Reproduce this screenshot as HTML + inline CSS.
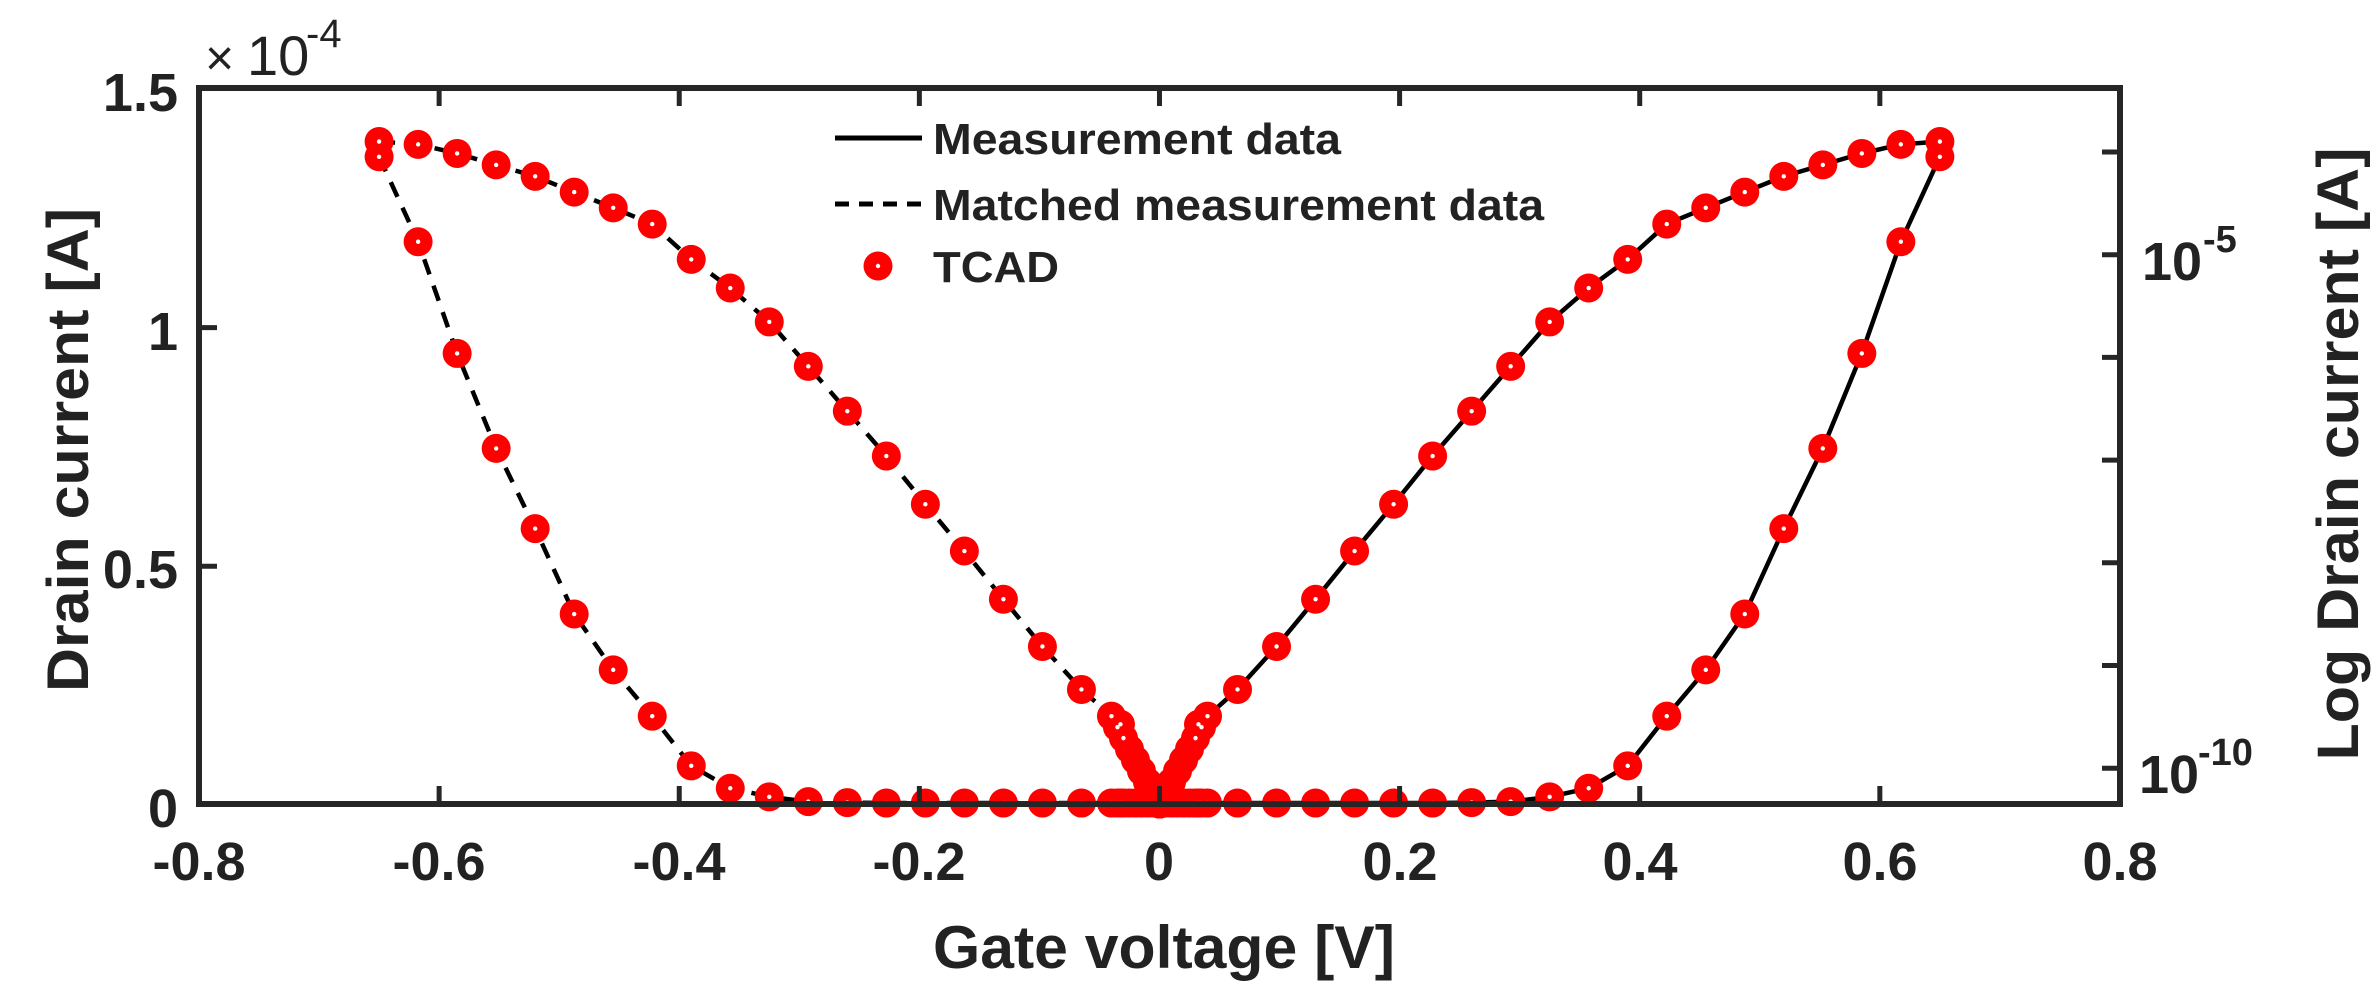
<!DOCTYPE html>
<html><head><meta charset="utf-8"><style>
html,body{margin:0;padding:0;background:#fff;}
svg{display:block;}
text{font-family:"Liberation Sans",Arial,sans-serif;fill:#222;}
</style></head><body>
<svg id="s" width="2378" height="999" viewBox="0 0 2378 999" xmlns="http://www.w3.org/2000/svg">
<g id="lines"></g>
<g id="marks"></g>
<g id="axes" stroke="#262626" stroke-width="6" fill="none">
<rect x="199" y="88" width="1921" height="716"/>
</g>
<g id="ticks" stroke="#262626" stroke-width="5"></g>
<g font-weight="bold" font-size="54" text-anchor="middle">
<text x="199" y="880">-0.8</text><text x="439" y="880">-0.6</text><text x="679" y="880">-0.4</text><text x="919" y="880">-0.2</text>
<text x="1159" y="880">0</text><text x="1400" y="880">0.2</text><text x="1640" y="880">0.4</text><text x="1880" y="880">0.6</text><text x="2120" y="880">0.8</text>
</g>
<g font-weight="bold" font-size="54" text-anchor="end">
<text x="178" y="827">0</text><text x="178" y="588">0.5</text><text x="178" y="350">1</text><text x="178" y="111">1.5</text>
</g>
<text x="205" y="75" font-size="50">×</text><text x="247" y="75" font-size="56">10</text><text x="306" y="47" font-size="40">-4</text>
<g font-weight="bold">
<text x="2142" y="280" font-size="54">10</text><text x="2203" y="252" font-size="38">-5</text>
<text x="2139" y="793" font-size="54">10</text><text x="2198" y="765" font-size="38">-10</text>
</g>
<text x="1164" y="968" font-size="60" font-weight="bold" text-anchor="middle" textLength="462" lengthAdjust="spacingAndGlyphs">Gate voltage [V]</text>
<text transform="translate(88,450) rotate(-90)" font-size="58" font-weight="bold" text-anchor="middle" textLength="484" lengthAdjust="spacingAndGlyphs">Drain current [A]</text>
<text transform="translate(2358,454) rotate(-90)" font-size="58" font-weight="bold" text-anchor="middle" textLength="613" lengthAdjust="spacingAndGlyphs">Log Drain current [A]</text>
<g font-weight="bold" font-size="44">
<line x1="835" y1="138" x2="922" y2="138" stroke="#000" stroke-width="5"/>
<text x="933" y="154" textLength="408" lengthAdjust="spacingAndGlyphs">Measurement data</text>
<line x1="835" y1="204" x2="922" y2="204" stroke="#000" stroke-width="5" stroke-dasharray="14,10"/>
<text x="933" y="220" textLength="611" lengthAdjust="spacingAndGlyphs">Matched measurement data</text>
<circle cx="878" cy="266" r="14.5" fill="#f00"/><circle cx="878" cy="266" r="2.2" fill="#fff"/>
<text x="933" y="282" textLength="126" lengthAdjust="spacingAndGlyphs">TCAD</text>
</g>
</svg>
<script>
var NS="http://www.w3.org/2000/svg";
function px(v){return 199+(v+0.8)*1200.6;}
function py(i){return 804-i*477.3;}
function el(p,t,a){var e=document.createElementNS(NS,t);for(var k in a)e.setAttribute(k,a[k]);p.appendChild(e);return e;}
var tk=document.getElementById('ticks');
for(var v=-0.6;v<0.75;v+=0.2){var x=px(v);el(tk,'line',{x1:x,y1:804,x2:x,y2:786});el(tk,'line',{x1:x,y1:88,x2:x,y2:106});}
[566.3,327.6].forEach(function(y){el(tk,'line',{x1:199,y1:y,x2:217,y2:y});});
for(var k=0;k<7;k++){var y=152+k*102.7;el(tk,'line',{x1:2120,y1:y,x2:2102,y2:y});}
// upper branch (left), V from -0.65 to 0
var up=[1.388,1.382,1.363,1.339,1.315,1.282,1.249,1.215,1.141,1.081,1.010,0.917,0.823,0.729,0.628,0.530,0.429,0.330,0.240,0.167,0];
var lo=[1.356,1.178,0.944,0.745,0.577,0.398,0.281,0.184,0.080,0.033,0.015,0.005,0.003,0.002,0.002,0.002,0.002,0.002,0.002,0.002,0];
var L=document.getElementById('lines'),M=document.getElementById('marks');
function path(pts,dash){var d='';pts.forEach(function(p,i){d+=(i?'L':'M')+px(p[0]).toFixed(1)+' '+py(p[1]).toFixed(1);});
var a={d:d,stroke:'#000','stroke-width':4.5,fill:'none'};if(dash)a['stroke-dasharray']='16,12';el(L,'path',a);}
var uL=[],lL=[],uR=[],lR=[];
for(var i=0;i<=20;i++){var v=-0.65+i*0.0325;uL.push([v,up[i]]);lL.push([v,lo[i]]);uR.push([-v,up[i]]);lR.push([-v,lo[i]]);}
path(uL,true);path(lL,true);path(uR,false);path(lR,false);
var pts=uL.concat(lL,uR,lR);
for(var v=-0.04;v<=0.0401;v+=0.005){pts.push([v,Math.abs(v)*4.6]);pts.push([v,0.002]);}
pts.forEach(function(p){el(M,'circle',{cx:px(p[0]),cy:py(p[1]),r:14.5,fill:'#f00'});});
pts.forEach(function(p){if(Math.abs(p[0])>0.03||p[0]==0)el(M,'circle',{cx:px(p[0]),cy:py(p[1]),r:2.2,fill:'#fff'});});
</script>
</body></html>
